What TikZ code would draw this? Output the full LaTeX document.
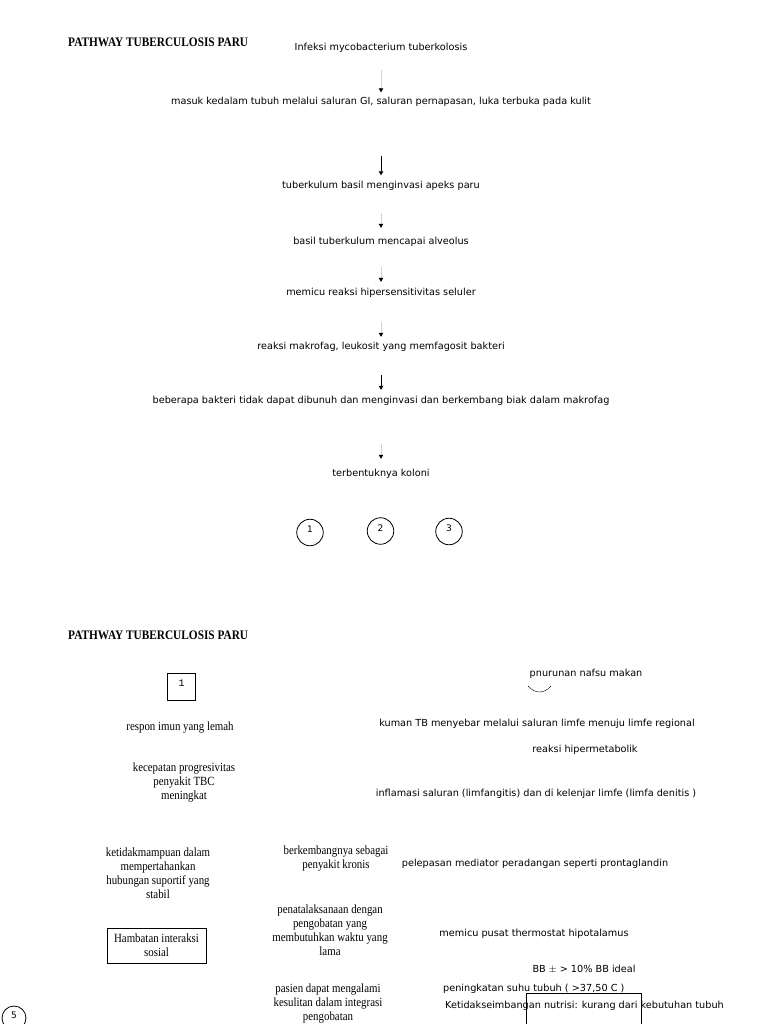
\documentclass[tikz,border=0pt]{standalone}
\usepackage{fontspec}
\setmainfont{DejaVu Sans}
\setmonofont{Liberation Mono}
\newfontfamily\narrowserif[FakeStretch=0.87]{Liberation Serif}
\usetikzlibrary{arrows.meta}
\usetikzlibrary{positioning}

\begin{document}
\begin{tikzpicture}[x=1pt, y=-1pt,
    txt/.style={inner sep=0pt, text height=9pt, text depth=0pt, font=\fontsize{9.7}{11}\selectfont},
    srf/.style={inner sep=0pt, align=center, font=\narrowserif\fontsize{12.5}{14}\selectfont},
    ttl/.style={anchor=west, inner sep=0pt, font=\narrowserif\bfseries\fontsize{13}{15}\selectfont},
    faint/.style={draw=gray!35, line width=0.6pt, -{Triangle[length=4pt, width=4.5pt, color=black]}},
    dark/.style={draw=black, line width=0.8pt, -{Triangle[length=4pt, width=4.5pt]}},
    num/.style={draw, circle, line width=0.8pt, minimum size=26.5pt, inner sep=1pt, text height=7pt, text depth=7pt, font=\fontsize{9}{10}\selectfont}]
    \useasboundingbox (0,0) rectangle (768,1024);
    \clip (0,0) rectangle (768,1024);
    \fill[white] (0,0) rectangle (768,1024);

    % first page
    \node[ttl] (t1) at (68,42) {PATHWAY TUBERCULOSIS PARU};
    \node[txt] (a) at (381,46) {Infeksi mycobacterium tuberkolosis};
    \node[txt] (b) at (381,100) {masuk kedalam tubuh melalui saluran GI, saluran pernapasan, luka terbuka pada kulit};
    \node[txt] (c) at (381,184) {tuberkulum basil menginvasi apeks paru};
    \node[txt] (d) at (381,240) {basil tuberkulum mencapai alveolus};
    \node[txt] (e) at (381,291) {memicu reaksi hipersensitivitas seluler};
    \node[txt] (f) at (381,345) {reaksi makrofag, leukosit yang memfagosit bakteri};
    \node[txt] (g) at (381,399) {beberapa bakteri tidak dapat dibunuh dan menginvasi dan berkembang biak dalam makrofag};
    \node[txt] (h) at (381,472) {terbentuknya koloni};

    \node[num] (k1) at (310,532.5) {1};
    \node[num] (k2) at (380.5,531) {2};
    \node[num] (k3) at (449,531.5) {3};

    \draw[faint, shorten <=19.5pt, shorten >=3pt] (a) -- (b);
    \draw[dark, shorten <=51.5pt, shorten >=4pt] (b) -- (c);
    \draw[faint, shorten <=24.5pt, shorten >=7.5pt] (c) -- (d);
    \draw[faint, shorten <=22.5pt, shorten >=4.5pt] (d) -- (e);
    \draw[faint, shorten <=26.5pt, shorten >=3.5pt] (e) -- (f);
    \draw[dark, shorten <=25.5pt, shorten >=4.5pt] (f) -- (g);
    \draw[faint, shorten <=40.5pt, shorten >=8.5pt] (g) -- (h);

    % second page
    \node[ttl] (t2) at (68,635) {PATHWAY TUBERCULOSIS PARU};
    \node[draw, line width=0.8pt, minimum width=28pt, minimum height=27pt, inner sep=1pt, text height=7pt, text depth=7pt, font=\ttfamily\fontsize{10}{11}\selectfont] (box1) at (181.7,686.5) {1};

    \node[srf] (imun) at (180,728) {respon imun yang lemah};
    \node[srf] (cepat) at (184,783) {kecepatan progresivitas\\penyakit TBC\\meningkat};
    \node[srf] (mampu) at (158,873) {ketidakmampuan dalam\\mempertahankan\\hubungan suportif yang\\stabil};
    \node[srf] (kronis) at (336,859) {berkembangnya sebagai\\penyakit kronis};
    \node[srf] (lama) at (330,930) {penatalaksanaan dengan\\pengobatan yang\\membutuhkan waktu yang\\lama};
    \node[srf, draw, minimum width=99pt, minimum height=35pt] (sosial) at (156.5,945.5) {Hambatan interaksi\\sosial};
    \node[srf] (pasien) at (328,1003) {pasien dapat mengalami\\kesulitan dalam integrasi\\pengobatan};

    \node[txt] (nafsu) at (586,672) {pnurunan nafsu makan};
    \draw (528,686) .. controls (535,694) and (544,694) .. (551,686);
    \node[txt] (kuman) at (537,722) {kuman TB menyebar melalui saluran limfe menuju limfe regional};
    \node[txt] (meta) at (585,748) {reaksi hipermetabolik};
    \node[txt] (radang) at (536,792) {inflamasi saluran (limfangitis) dan di kelenjar limfe (limfa denitis )};
    \node[txt] (medi) at (535,862) {pelepasan mediator peradangan seperti prontaglandin};
    \node[txt] (termo) at (534,932) {memicu pusat thermostat hipotalamus};
    \node[txt] (bb) at (584,968) {BB $\pm$ > 10\% BB ideal};
    \node[txt, anchor=west] (suhu) at (443,987) {peningkatan suhu tubuh ( >37,50 C )};
    \node[txt, anchor=west] (nutrisi) at (445,1004) {Ketidakseimbangan nutrisi: kurang dari kebutuhan tubuh};
    \draw (526,993) rectangle (641,1030);

    \node[num, minimum size=24pt] (k5) at (14,1018) {5};
\end{tikzpicture}
\end{document}
